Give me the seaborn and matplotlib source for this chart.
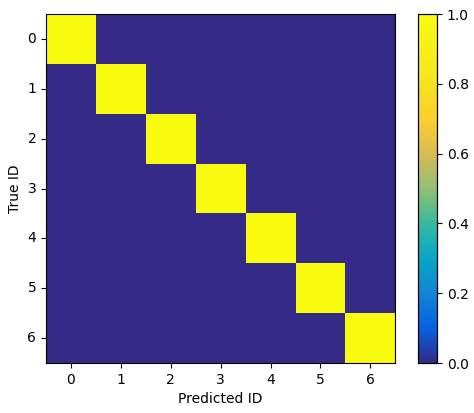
import numpy as np
import matplotlib
matplotlib.use("Agg")
import matplotlib.pyplot as plt
import seaborn as sns
from matplotlib.colors import LinearSegmentedColormap

ids = [0, 1, 2, 3, 4, 5, 6]
matrix = [
    [1, 0, 0, 0, 0, 0, 0],
    [0, 1, 0, 0, 0, 0, 0],
    [0, 0, 1, 0, 0, 0, 0],
    [0, 0, 0, 1, 0, 0, 0],
    [0, 0, 0, 0, 1, 0, 0],
    [0, 0, 0, 0, 0, 1, 0],
    [0, 0, 0, 0, 0, 0, 1],
]

parula = LinearSegmentedColormap.from_list("parula", [
    (0.00, "#352a87"), (0.10, "#0363e1"), (0.20, "#1485d4"), (0.30, "#06a7c6"),
    (0.40, "#38b99e"), (0.50, "#92bf73"), (0.60, "#d9ba56"), (0.70, "#fcce2e"),
    (0.80, "#f5e41d"), (1.00, "#f9fb0e")])

fig = plt.figure(figsize=(4.74, 4.13), dpi=100)
ax = fig.add_axes([0.097, 0.121, 0.737, 0.845])
cax = fig.add_axes([0.882, 0.121, 0.040, 0.845])
sns.heatmap(np.array(matrix, dtype=float), ax=ax, cbar_ax=cax, cmap=parula,
            vmin=0, vmax=1, xticklabels=ids, yticklabels=ids, square=False)
for s in ax.spines.values():
    s.set_visible(True); s.set_color("black"); s.set_linewidth(0.8)
cax.set_frame_on(True)
for s in cax.spines.values():
    s.set_visible(True); s.set_color("black"); s.set_linewidth(0.8)
ax.tick_params(length=3.5, width=0.8, labelsize=10)
ax.set_yticklabels(ids, rotation=0)
cax.tick_params(length=3.5, width=0.8, labelsize=10)
cax.set_yticks([0, 0.2, 0.4, 0.6, 0.8, 1.0])
cax.set_yticklabels(["0.0", "0.2", "0.4", "0.6", "0.8", "1.0"])
ax.set_xlabel("Predicted ID", fontsize=10)
ax.set_ylabel("True ID", fontsize=10)
fig.savefig("out.png", dpi=100)
